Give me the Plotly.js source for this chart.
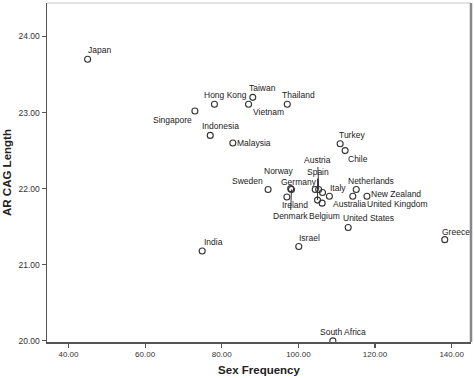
<!DOCTYPE html>
<html>
<head>
<meta charset="utf-8">
<script src="https://cdn.plot.ly/plotly-3.0.1.min.js"></script>
<style>html,body{margin:0;padding:0;background:#fff;}#chart{width:474px;height:378px;}</style>
</head>
<body>
<div id="chart"></div>
<script>
// ---- data ----
const countries = ["Japan","Singapore","Hong Kong","Taiwan","Vietnam","Thailand","Indonesia","Malaysia",
  "Turkey","Chile","Sweden","Germany","Denmark","Norway","Ireland","Austria","Spain","Italy","Belgium",
  "Australia","United Kingdom","New Zealand","Netherlands","United States","Greece","Israel","India","South Africa"];
const sexFrequency = [45.0,73.0,78.1,88.1,87.0,97.1,77.0,82.9,
  110.9,112.2,92.1,98.0,98.2,104.4,97.0,105.3,105.0,106.3,106.2,
  108.1,114.2,117.9,115.1,113.0,138.2,100.1,74.9,109.0];
const cagLength = [23.70,23.02,23.11,23.20,23.11,23.11,22.70,22.60,
  22.59,22.50,21.99,22.00,21.99,21.99,21.89,21.99,21.85,21.95,21.81,
  21.90,21.90,21.90,21.99,21.49,21.33,21.24,21.18,20.00];
const xTickVals = [40,60,80,100,120,140];
const yTickVals = [20,21,22,23,24];

// ---- label placement (pixel offsets, layout only) ----
const place = {
  "Japan":[ "left",-2,9], "Singapore":["right",-1,-9], "Hong Kong":["left",-12,9],
  "Taiwan":["left",-6,9], "Vietnam":["left",2,-8], "Thailand":["left",-7,9],
  "Indonesia":["left",-10,9], "Malaysia":["left",2,0], "Turkey":["left",-3,9],
  "Chile":["left",1,-8], "Sweden":["right",-3,8], "Germany":["left",-12,7],
  "Norway":["right",-19,18], "Ireland":["left",-7,-8], "Italy":["left",5,4],
  "Belgium":["left",-15,-13], "Australia":["left",2,-8], "United Kingdom":["left",12,-8],
  "New Zealand":["left",2,2], "Netherlands":["left",-10,8], "United States":["left",-7,9],
  "Greece":["left",-5,8], "Israel":["left",-2,9], "India":["left",0,9], "South Africa":["left",-15,9]
};
const leader = { "Denmark":[-1,27], "Austria":[-1,-29], "Spain":[0,-28] };

const labelFont = {family:"Liberation Sans, Arial, sans-serif", size:8.5, color:"#222"};
const annotations = countries.map((c,i)=>{
  if (leader[c]) {
    return {x:sexFrequency[i], y:cagLength[i], text:c, showarrow:true, arrowhead:0,
      arrowwidth:1, arrowcolor:"#333", ax:leader[c][0], ay:leader[c][1], standoff:0,
      font:labelFont, xref:"x", yref:"y"};
  }
  const p = place[c];
  return {x:sexFrequency[i], y:cagLength[i], text:c, showarrow:false,
    xanchor:p[0], yanchor:"middle", xshift:p[1], yshift:p[2], font:labelFont, xref:"x", yref:"y"};
});

const trace = {
  x: sexFrequency, y: cagLength, text: countries, type:"scatter", mode:"markers",
  marker:{symbol:"circle-open", size:6, color:"#333", line:{width:1.1, color:"#333"}},
  hoverinfo:"text"
};

const layout = {
  width:474, height:378,
  margin:{l:47, r:3, t:3, b:36, pad:0},
  paper_bgcolor:"#fff", plot_bgcolor:"#fff",
  showlegend:false,
  xaxis:{range:[34.4,145.05], tickvals:xTickVals, tickformat:".2f",
    showgrid:false, zeroline:false, showline:true, linecolor:"#555", linewidth:1.5,
    ticks:"outside", ticklen:4, tickwidth:1.2, tickcolor:"#555",
    tickfont:{family:"Liberation Sans, Arial, sans-serif", size:8, color:"#333"},
    title:{text:"Sex Frequency", standoff:8, font:{family:"Liberation Sans, Arial, sans-serif", size:11.5, color:"#222", weight:"bold"}}},
  yaxis:{range:[19.985,24.44], tickvals:yTickVals, tickformat:".2f",
    showgrid:false, zeroline:false, showline:true, linecolor:"#555", linewidth:1.5,
    ticks:"outside", ticklen:4, tickwidth:1.2, tickcolor:"#555",
    tickfont:{family:"Liberation Sans, Arial, sans-serif", size:8.5, color:"#333"},
    title:{text:"AR CAG Length", standoff:4, font:{family:"Liberation Sans, Arial, sans-serif", size:11.5, color:"#222", weight:"bold"}}},
  shapes:[
    {type:"line", xref:"paper", yref:"paper", x0:0, x1:1, y0:1, y1:1, line:{color:"#c8c8c8", width:1}},
    {type:"line", xref:"paper", yref:"paper", x0:1, x1:1, y0:0, y1:1, line:{color:"#888", width:2.5}}
  ],
  annotations: annotations
};

Plotly.newPlot("chart", [trace], layout, {displayModeBar:false, staticPlot:true});
</script>
</body>
</html>
